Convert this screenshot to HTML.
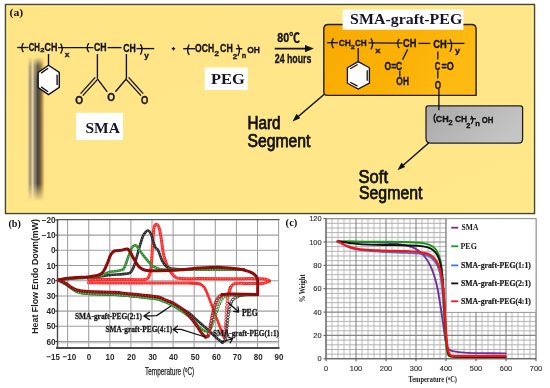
<!DOCTYPE html>
<html><head><meta charset="utf-8"><title>SMA-graft-PEG</title>
<style>html,body{margin:0;padding:0;background:#fff;}body{width:550px;height:388px;overflow:hidden;}svg{display:block}</style>
</head><body>
<svg width="550" height="388" viewBox="0 0 550 388">
<rect width="550" height="388" fill="#fff"/>
<defs>
<linearGradient id="ybg" x1="0" y1="0" x2="1" y2="1">
<stop offset="0" stop-color="#FFE484"/><stop offset="0.5" stop-color="#FFE689"/><stop offset="1" stop-color="#FFE88A"/>
</linearGradient>
<linearGradient id="stripe" gradientUnits="userSpaceOnUse" x1="26" y1="0" x2="45" y2="0">
<stop offset="0.000" stop-color="#FBE38C" stop-opacity="0"/>
<stop offset="0.100" stop-color="#F2D89A"/>
<stop offset="0.180" stop-color="#B0A276"/>
<stop offset="0.240" stop-color="#A69A72"/>
<stop offset="0.290" stop-color="#C8B486"/>
<stop offset="0.340" stop-color="#E6D0A2"/>
<stop offset="0.390" stop-color="#C6B68E"/>
<stop offset="0.450" stop-color="#8C887C"/>
<stop offset="0.530" stop-color="#76746A"/>
<stop offset="0.580" stop-color="#4C4A34"/>
<stop offset="0.660" stop-color="#584A38"/>
<stop offset="0.740" stop-color="#685A42"/>
<stop offset="0.790" stop-color="#82704E"/>
<stop offset="0.840" stop-color="#B48A3C"/>
<stop offset="0.895" stop-color="#D6A848"/>
<stop offset="0.950" stop-color="#F0CC88"/>
<stop offset="1.000" stop-color="#FBE38C" stop-opacity="0"/>
</linearGradient>
<linearGradient id="stripeFade" gradientUnits="userSpaceOnUse" x1="0" y1="57" x2="0" y2="201">
<stop offset="0" stop-color="#fff" stop-opacity="0"/>
<stop offset="0.06" stop-color="#fff" stop-opacity="0.8"/>
<stop offset="0.16" stop-color="#fff" stop-opacity="1"/>
<stop offset="0.88" stop-color="#fff" stop-opacity="1"/>
<stop offset="1" stop-color="#fff" stop-opacity="0"/>
</linearGradient>
<mask id="stripeMask" maskUnits="userSpaceOnUse" x="20" y="50" width="30" height="160"><rect x="20" y="57" width="30" height="144" fill="url(#stripeFade)"/></mask>
<linearGradient id="orng" x1="0" y1="0" x2="1" y2="0.3">
<stop offset="0" stop-color="#F8AB02"/><stop offset="0.6" stop-color="#FBB104"/><stop offset="1" stop-color="#FFBA12"/>
</linearGradient>
<linearGradient id="gry" x1="0" y1="0" x2="1" y2="0.4">
<stop offset="0" stop-color="#A9A9A9"/><stop offset="1" stop-color="#C4C4C4"/>
</linearGradient>
</defs>
<rect x="5.5" y="4.5" width="529" height="209" fill="url(#ybg)" stroke="#4A4638" stroke-width="1.5"/>
<rect x="7.1" y="6.1" width="525.8" height="205.8" fill="none" stroke="#FFF08C" stroke-width="1"/>
<text x="9.6" y="15.6" font-family="'Liberation Serif', serif" font-weight="bold" font-size="11" fill="#111" textLength="13.6" lengthAdjust="spacingAndGlyphs">(a)</text>
<rect x="26" y="57" width="19" height="144" fill="url(#stripe)" mask="url(#stripeMask)"/>
<g stroke="#111" stroke-width="1.35" fill="none">
<line x1="17.2" y1="47.5" x2="28.5" y2="47.5"/>
<line x1="58" y1="47.6" x2="93.5" y2="47.6"/>
<line x1="107.6" y1="47.6" x2="121.5" y2="47.6"/>
<line x1="136.5" y1="48.6" x2="154.2" y2="48.6"/>
<path d="M23.400000000000002,43.2 Q20.2,47.7 23.400000000000002,52.2"/>
<path d="M60.6,43.6 Q63.800000000000004,48.6 60.6,53.6"/>
<path d="M88.8,43.2 Q85.60000000000001,47.7 88.8,52.2"/>
<path d="M140.4,44.2 Q143.6,49.400000000000006 140.4,54.6"/>
<line x1="48.5" y1="54" x2="48.5" y2="65.2"/>
<polygon points="48.5,65.2 59.3,72.4 59.3,87.4 48.5,94.6 38.2,87.6 38.2,72.4" fill="#FFFFFF"/>
<line x1="48.1" y1="68.2" x2="41.1" y2="73.1"/>
<line x1="57.1" y1="74.8" x2="57.1" y2="85.0"/>
<line x1="41.1" y1="86.9" x2="48.1" y2="91.7"/>
<line x1="97.4" y1="54" x2="97.4" y2="78.8"/>
<line x1="126.4" y1="54" x2="126.4" y2="78.8"/>
<line x1="97.4" y1="78.8" x2="107.3" y2="91.8"/>
<line x1="126.4" y1="78.8" x2="115.4" y2="91.8"/>
<line x1="97.6" y1="79.4" x2="82.8" y2="95.6"/>
<line x1="95.2" y1="77.4" x2="80.6" y2="93.6"/>
<line x1="126.2" y1="79.4" x2="141.0" y2="95.6"/>
<line x1="128.6" y1="77.4" x2="143.2" y2="93.6"/>
</g>
<text x="28.75" y="51.0" font-family="'Liberation Sans', sans-serif" font-weight="bold" font-size="10" fill="#111" stroke="#111" stroke-width="0.3" textLength="11.20" lengthAdjust="spacingAndGlyphs">CH</text>
<text x="40.15" y="52.4" font-family="'Liberation Sans', sans-serif" font-weight="bold" font-size="6.2" fill="#111" stroke="#111" stroke-width="0.3" textLength="4.30" lengthAdjust="spacingAndGlyphs">2</text>
<text x="44.55" y="51.0" font-family="'Liberation Sans', sans-serif" font-weight="bold" font-size="10" fill="#111" stroke="#111" stroke-width="0.3" textLength="12.90" lengthAdjust="spacingAndGlyphs">CH</text>
<text x="64.75" y="56.5" font-family="'Liberation Sans', sans-serif" font-weight="bold" font-size="7.4" fill="#111" stroke="#111" stroke-width="0.3" textLength="4.70" lengthAdjust="spacingAndGlyphs">x</text>
<text x="94.05" y="50.6" font-family="'Liberation Sans', sans-serif" font-weight="bold" font-size="10" fill="#111" stroke="#111" stroke-width="0.3" textLength="12.60" lengthAdjust="spacingAndGlyphs">CH</text>
<text x="123.15" y="51.7" font-family="'Liberation Sans', sans-serif" font-weight="bold" font-size="10" fill="#111" stroke="#111" stroke-width="0.3" textLength="12.60" lengthAdjust="spacingAndGlyphs">CH</text>
<text x="144.25" y="57.6" font-family="'Liberation Sans', sans-serif" font-weight="bold" font-size="7.4" fill="#111" stroke="#111" stroke-width="0.3" textLength="4.60" lengthAdjust="spacingAndGlyphs">y</text>
<text x="75.15" y="104.3" font-family="'Liberation Sans', sans-serif" font-weight="bold" font-size="10.8" fill="#111" stroke="#111" stroke-width="0.3" textLength="7.80" lengthAdjust="spacingAndGlyphs">O</text>
<text x="107.15" y="101.4" font-family="'Liberation Sans', sans-serif" font-weight="bold" font-size="10.8" fill="#111" stroke="#111" stroke-width="0.3" textLength="7.80" lengthAdjust="spacingAndGlyphs">O</text>
<text x="141.05" y="104.3" font-family="'Liberation Sans', sans-serif" font-weight="bold" font-size="10.8" fill="#111" stroke="#111" stroke-width="0.3" textLength="7.30" lengthAdjust="spacingAndGlyphs">O</text>
<rect x="76" y="112.8" width="47" height="27.2" fill="#FFFFFF"/>
<text x="85.5" y="132.7" font-family="'Liberation Serif', serif" font-weight="bold" font-size="15.6" fill="#14142A" textLength="34.4" lengthAdjust="spacingAndGlyphs">SMA</text>
<g stroke="#111" stroke-width="1.3"><line x1="171.8" y1="48.7" x2="175.1" y2="48.7"/><line x1="173.45" y1="47" x2="173.45" y2="50.4"/></g>
<g stroke="#111" stroke-width="1.35" fill="none">
<line x1="183.2" y1="48.7" x2="195" y2="48.7"/>
<path d="M189.2,44.6 Q186.0,49.8 189.2,55"/>
<line x1="235.9" y1="48.7" x2="242.3" y2="48.7"/>
<path d="M237.8,44.6 Q241.0,50.3 237.8,56"/>
</g>
<text x="195.05" y="52.4" font-family="'Liberation Sans', sans-serif" font-weight="bold" font-size="10.4" fill="#111" stroke="#111" stroke-width="0.3" textLength="19.10" lengthAdjust="spacingAndGlyphs">OCH</text>
<text x="214.55" y="55.6" font-family="'Liberation Sans', sans-serif" font-weight="bold" font-size="7" fill="#111" stroke="#111" stroke-width="0.3" textLength="4.50" lengthAdjust="spacingAndGlyphs">2</text>
<text x="220.05" y="52.4" font-family="'Liberation Sans', sans-serif" font-weight="bold" font-size="10.4" fill="#111" stroke="#111" stroke-width="0.3" textLength="12.70" lengthAdjust="spacingAndGlyphs">CH</text>
<text x="232.75" y="58.7" font-family="'Liberation Sans', sans-serif" font-weight="bold" font-size="7.6" fill="#111" stroke="#111" stroke-width="0.3" textLength="4.50" lengthAdjust="spacingAndGlyphs">2</text>
<text x="241.85" y="57.8" font-family="'Liberation Sans', sans-serif" font-weight="bold" font-size="7.8" fill="#111" stroke="#111" stroke-width="0.3" textLength="4.50" lengthAdjust="spacingAndGlyphs">n</text>
<text x="247.25" y="52.7" font-family="'Liberation Sans', sans-serif" font-weight="bold" font-size="9.6" fill="#111" stroke="#111" stroke-width="0.3" textLength="12.70" lengthAdjust="spacingAndGlyphs">OH</text>
<rect x="204.7" y="67.5" width="43" height="22.5" fill="#FFFFFF"/>
<text x="210.9" y="83.6" font-family="'Liberation Serif', serif" font-weight="bold" font-size="15.6" fill="#14142A" textLength="33.8" lengthAdjust="spacingAndGlyphs">PEG</text>
<text x="277.35" y="42.4" font-family="'Liberation Sans', 'Noto Sans CJK SC', sans-serif" font-weight="bold" font-size="12.8" fill="#111" stroke="#111" stroke-width="0.3" textLength="22.60" lengthAdjust="spacingAndGlyphs">80℃</text>
<line x1="274.7" y1="48.6" x2="307" y2="48.6" stroke="#111" stroke-width="1.7"/>
<path d="M305,45.0 L313.8,48.6 L305,52.2 z" fill="#111"/>
<text x="274.75" y="63.3" font-family="'Liberation Sans', sans-serif" font-weight="bold" font-size="12.8" fill="#111" stroke="#111" stroke-width="0.3" textLength="36.70" lengthAdjust="spacingAndGlyphs">24 hours</text>
<path d="M323.8,91.5 L323.8,29 Q323.8,24.5 328.3,24.5 L471.6,24.5 Q476.1,24.5 476.1,29 L476.1,95.4 L327.7,95.4 Q323.8,95.4 323.8,91.5 Z" fill="url(#orng)" stroke="#241C14" stroke-width="1.4"/>
<rect x="342.6" y="9.4" width="120.8" height="20.3" fill="#FFFFFF"/>
<text x="350.1" y="24" font-family="'Liberation Serif', serif" font-weight="bold" font-size="15.6" fill="#14142A" textLength="112.2" lengthAdjust="spacingAndGlyphs">SMA-graft-PEG</text>
<g stroke="#111" stroke-width="1.3" fill="none">
<line x1="327.1" y1="42.7" x2="338" y2="42.7"/>
<line x1="368.5" y1="42.9" x2="402.5" y2="43.1"/>
<line x1="418.5" y1="43.4" x2="430.3" y2="43.4"/>
<line x1="447" y1="43.4" x2="464.6" y2="43.4"/>
<path d="M333.40000000000003,38.4 Q330.2,43.3 333.40000000000003,48.2"/>
<path d="M371.0,38.4 Q374.20000000000005,43.849999999999994 371.0,49.3"/>
<path d="M399.20000000000005,39.0 Q396.0,43.5 399.20000000000005,48.0"/>
<path d="M450.0,39.2 Q453.20000000000005,45.5 450.0,51.8"/>
<line x1="358.2" y1="48" x2="358.2" y2="61.6"/>
<polygon points="358.2,61.6 369.4,67.8 369.4,83.2 358.2,89.0 347.4,83.2 347.4,67.8" fill="#FFFFFF"/>
<line x1="357.6" y1="64.5" x2="350.2" y2="68.7"/>
<line x1="367.2" y1="70.3" x2="367.2" y2="80.7"/>
<line x1="350.2" y1="82.2" x2="357.5" y2="86.1"/>
<line x1="407.7" y1="49.3" x2="402.6" y2="59.6"/>
<line x1="399.8" y1="70.8" x2="399.8" y2="76.4"/>
<line x1="437.8" y1="51.6" x2="437.8" y2="59.6"/>
<line x1="437.8" y1="70.4" x2="437.8" y2="78.6"/>
<line x1="438.9" y1="88.8" x2="438.9" y2="110.5"/>
</g>
<text x="338.65" y="45.8" font-family="'Liberation Sans', sans-serif" font-weight="bold" font-size="9.6" fill="#111" stroke="#111" stroke-width="0.3" textLength="12.30" lengthAdjust="spacingAndGlyphs">CH</text>
<text x="350.85" y="48.7" font-family="'Liberation Sans', sans-serif" font-weight="bold" font-size="6.0" fill="#111" stroke="#111" stroke-width="0.3" textLength="4.00" lengthAdjust="spacingAndGlyphs">2</text>
<text x="354.95" y="45.8" font-family="'Liberation Sans', sans-serif" font-weight="bold" font-size="9.6" fill="#111" stroke="#111" stroke-width="0.3" textLength="11.80" lengthAdjust="spacingAndGlyphs">CH</text>
<text x="375.15" y="52.5" font-family="'Liberation Sans', sans-serif" font-weight="bold" font-size="7.6" fill="#111" stroke="#111" stroke-width="0.3" textLength="5.30" lengthAdjust="spacingAndGlyphs">x</text>
<text x="403.05" y="46.8" font-family="'Liberation Sans', sans-serif" font-weight="bold" font-size="10" fill="#111" stroke="#111" stroke-width="0.3" textLength="13.40" lengthAdjust="spacingAndGlyphs">CH</text>
<text x="433.15" y="47.6" font-family="'Liberation Sans', sans-serif" font-weight="bold" font-size="10" fill="#111" stroke="#111" stroke-width="0.3" textLength="13.50" lengthAdjust="spacingAndGlyphs">CH</text>
<text x="454.95" y="53.2" font-family="'Liberation Sans', sans-serif" font-weight="bold" font-size="7.4" fill="#111" stroke="#111" stroke-width="0.3" textLength="5.10" lengthAdjust="spacingAndGlyphs">y</text>
<text x="384.55" y="70.0" font-family="'Liberation Sans', sans-serif" font-weight="bold" font-size="10.4" fill="#111" stroke="#111" stroke-width="0.3" textLength="17.70" lengthAdjust="spacingAndGlyphs">O=C</text>
<text x="396.35" y="85.2" font-family="'Liberation Sans', sans-serif" font-weight="bold" font-size="10.4" fill="#111" stroke="#111" stroke-width="0.3" textLength="12.60" lengthAdjust="spacingAndGlyphs">OH</text>
<text x="434.85" y="70.0" font-family="'Liberation Sans', sans-serif" font-weight="bold" font-size="10.4" fill="#111" stroke="#111" stroke-width="0.3" textLength="5.60" lengthAdjust="spacingAndGlyphs">C</text>
<text x="441.55" y="70.0" font-family="'Liberation Sans', sans-serif" font-weight="bold" font-size="10.4" fill="#111" stroke="#111" stroke-width="0.3" textLength="12.30" lengthAdjust="spacingAndGlyphs">=O</text>
<text x="434.85" y="88.5" font-family="'Liberation Sans', sans-serif" font-weight="bold" font-size="10.8" fill="#111" stroke="#111" stroke-width="0.3" textLength="6.30" lengthAdjust="spacingAndGlyphs">O</text>
<path d="M426,108 Q426,105.8 428.2,105.8 L520.4,105.8 Q522.6,105.8 522.6,108 L522.6,139 Q522.6,143.2 518.4,143.2 L431,143.2 Q426,143.2 426,138.2 Z" fill="url(#gry)" stroke="#222" stroke-width="1.3"/>
<line x1="438.9" y1="105" x2="438.9" y2="110.2" stroke="#111" stroke-width="1.3"/>
<g stroke="#111" stroke-width="1.3" fill="none"><path d="M435.6,113.7 Q432.4,118.25 435.6,122.8"/><line x1="470" y1="118.8" x2="476" y2="118.8"/><path d="M471.2,116.0 Q474.40000000000003,120.1 471.2,124.2"/></g>
<text x="435.85" y="122.0" font-family="'Liberation Sans', sans-serif" font-weight="bold" font-size="9.8" fill="#111" stroke="#111" stroke-width="0.3" textLength="13.00" lengthAdjust="spacingAndGlyphs">CH</text>
<text x="448.55" y="125.2" font-family="'Liberation Sans', sans-serif" font-weight="bold" font-size="6.4" fill="#111" stroke="#111" stroke-width="0.3" textLength="4.10" lengthAdjust="spacingAndGlyphs">2</text>
<text x="454.95" y="122.3" font-family="'Liberation Sans', sans-serif" font-weight="bold" font-size="9.8" fill="#111" stroke="#111" stroke-width="0.3" textLength="12.30" lengthAdjust="spacingAndGlyphs">CH</text>
<text x="466.35" y="128.4" font-family="'Liberation Sans', sans-serif" font-weight="bold" font-size="6.4" fill="#111" stroke="#111" stroke-width="0.3" textLength="4.10" lengthAdjust="spacingAndGlyphs">2</text>
<text x="475.25" y="125.8" font-family="'Liberation Sans', sans-serif" font-weight="bold" font-size="7.0" fill="#111" stroke="#111" stroke-width="0.3" textLength="4.70" lengthAdjust="spacingAndGlyphs">n</text>
<text x="481.65" y="123.0" font-family="'Liberation Sans', sans-serif" font-weight="bold" font-size="9.6" fill="#111" stroke="#111" stroke-width="0.3" textLength="11.70" lengthAdjust="spacingAndGlyphs">OH</text>
<line x1="324" y1="94.5" x2="295" y2="119.3" stroke="#111" stroke-width="1.5"/>
<path d="M292.5,121.5 L296.5,113.8 L300.2,118.2 z" fill="#111"/>
<text x="247.50" y="128.5" font-family="'Liberation Sans', sans-serif" font-weight="normal" font-size="17.6" fill="#111" stroke="#111" stroke-width="0.75" textLength="33.10" lengthAdjust="spacingAndGlyphs">Hard</text>
<text x="247.50" y="146.9" font-family="'Liberation Sans', sans-serif" font-weight="normal" font-size="17.6" fill="#111" stroke="#111" stroke-width="0.75" textLength="63.00" lengthAdjust="spacingAndGlyphs">Segment</text>
<line x1="428.6" y1="143" x2="400" y2="168" stroke="#111" stroke-width="1.5"/>
<path d="M397.5,170.3 L401.5,162.5 L405.2,167 z" fill="#111"/>
<text x="358.60" y="183.1" font-family="'Liberation Sans', sans-serif" font-weight="normal" font-size="17.6" fill="#111" stroke="#111" stroke-width="0.75" textLength="29.40" lengthAdjust="spacingAndGlyphs">Soft</text>
<text x="359.00" y="199.0" font-family="'Liberation Sans', sans-serif" font-weight="normal" font-size="17.6" fill="#111" stroke="#111" stroke-width="0.75" textLength="63.40" lengthAdjust="spacingAndGlyphs">Segment</text>
<text x="8.4" y="226.8" font-family="'Liberation Serif', serif" font-weight="bold" font-size="11" fill="#111" textLength="12.4" lengthAdjust="spacingAndGlyphs">(b)</text>
<g stroke="#9E9E9E" stroke-width="1.05" fill="none">
<line x1="67.6" y1="219.5" x2="67.6" y2="347"/>
<line x1="88.7" y1="219.5" x2="88.7" y2="347"/>
<line x1="109.8" y1="219.5" x2="109.8" y2="347"/>
<line x1="130.9" y1="219.5" x2="130.9" y2="347"/>
<line x1="152.0" y1="219.5" x2="152.0" y2="347"/>
<line x1="173.1" y1="219.5" x2="173.1" y2="347"/>
<line x1="194.2" y1="219.5" x2="194.2" y2="347"/>
<line x1="215.3" y1="219.5" x2="215.3" y2="347"/>
<line x1="236.4" y1="219.5" x2="236.4" y2="347"/>
<line x1="257.5" y1="219.5" x2="257.5" y2="347"/>
<line x1="278.6" y1="219.5" x2="278.6" y2="347"/>
<line x1="57" y1="235.1" x2="279" y2="235.1"/>
<line x1="57" y1="250.3" x2="279" y2="250.3"/>
<line x1="57" y1="265.5" x2="279" y2="265.5"/>
<line x1="57" y1="280.7" x2="279" y2="280.7"/>
<line x1="57" y1="295.9" x2="279" y2="295.9"/>
<line x1="57" y1="311.1" x2="279" y2="311.1"/>
<line x1="57" y1="326.3" x2="279" y2="326.3"/>
<line x1="57" y1="341.5" x2="279" y2="341.5"/>
<line x1="57" y1="342.8" x2="279" y2="342.8" stroke="#B0B0B0" stroke-width="0.9"/>
</g>
<line x1="57" y1="219.6" x2="279.5" y2="219.6" stroke="#555" stroke-width="1.4"/>
<line x1="57.5" y1="219" x2="57.5" y2="349" stroke="#4A4A4A" stroke-width="1.4"/>
<line x1="56" y1="348" x2="279.5" y2="348" stroke="#4A4A4A" stroke-width="1.9"/>
<line x1="55.3" y1="219.9" x2="57.5" y2="219.9" stroke="#333" stroke-width="1.1"/>
<text transform="translate(55.6,222.9) scale(0.98,1)" font-family="'Liberation Sans', sans-serif" font-weight="bold" font-size="8.4" fill="#2A2A2A" text-anchor="end">−20</text>
<line x1="55.3" y1="235.1" x2="57.5" y2="235.1" stroke="#333" stroke-width="1.1"/>
<text transform="translate(55.6,238.1) scale(0.98,1)" font-family="'Liberation Sans', sans-serif" font-weight="bold" font-size="8.4" fill="#2A2A2A" text-anchor="end">−10</text>
<line x1="55.3" y1="250.3" x2="57.5" y2="250.3" stroke="#333" stroke-width="1.1"/>
<text transform="translate(55.6,253.3) scale(0.98,1)" font-family="'Liberation Sans', sans-serif" font-weight="bold" font-size="8.4" fill="#2A2A2A" text-anchor="end">0</text>
<line x1="55.3" y1="265.5" x2="57.5" y2="265.5" stroke="#333" stroke-width="1.1"/>
<text transform="translate(55.6,268.5) scale(0.98,1)" font-family="'Liberation Sans', sans-serif" font-weight="bold" font-size="8.4" fill="#2A2A2A" text-anchor="end">10</text>
<line x1="55.3" y1="280.7" x2="57.5" y2="280.7" stroke="#333" stroke-width="1.1"/>
<text transform="translate(55.6,283.7) scale(0.98,1)" font-family="'Liberation Sans', sans-serif" font-weight="bold" font-size="8.4" fill="#2A2A2A" text-anchor="end">20</text>
<line x1="55.3" y1="295.9" x2="57.5" y2="295.9" stroke="#333" stroke-width="1.1"/>
<text transform="translate(55.6,298.9) scale(0.98,1)" font-family="'Liberation Sans', sans-serif" font-weight="bold" font-size="8.4" fill="#2A2A2A" text-anchor="end">30</text>
<line x1="55.3" y1="311.1" x2="57.5" y2="311.1" stroke="#333" stroke-width="1.1"/>
<text transform="translate(55.6,314.1) scale(0.98,1)" font-family="'Liberation Sans', sans-serif" font-weight="bold" font-size="8.4" fill="#2A2A2A" text-anchor="end">40</text>
<line x1="55.3" y1="326.3" x2="57.5" y2="326.3" stroke="#333" stroke-width="1.1"/>
<text transform="translate(55.6,329.3) scale(0.98,1)" font-family="'Liberation Sans', sans-serif" font-weight="bold" font-size="8.4" fill="#2A2A2A" text-anchor="end">50</text>
<line x1="55.3" y1="341.5" x2="57.5" y2="341.5" stroke="#333" stroke-width="1.1"/>
<text transform="translate(55.6,344.5) scale(0.98,1)" font-family="'Liberation Sans', sans-serif" font-weight="bold" font-size="8.4" fill="#2A2A2A" text-anchor="end">60</text>
<text transform="translate(53.1,359.8) scale(0.88,1)" font-family="'Liberation Sans', sans-serif" font-weight="bold" font-size="9.1" fill="#2A2A2A" text-anchor="middle">−15</text>
<text transform="translate(69.3,359.8) scale(0.88,1)" font-family="'Liberation Sans', sans-serif" font-weight="bold" font-size="9.1" fill="#2A2A2A" text-anchor="middle">−10</text>
<text transform="translate(89.0,359.8) scale(0.88,1)" font-family="'Liberation Sans', sans-serif" font-weight="bold" font-size="9.1" fill="#2A2A2A" text-anchor="middle">0</text>
<text transform="translate(110.0,359.8) scale(0.88,1)" font-family="'Liberation Sans', sans-serif" font-weight="bold" font-size="9.1" fill="#2A2A2A" text-anchor="middle">10</text>
<text transform="translate(131.5,359.8) scale(0.88,1)" font-family="'Liberation Sans', sans-serif" font-weight="bold" font-size="9.1" fill="#2A2A2A" text-anchor="middle">20</text>
<text transform="translate(152.6,359.8) scale(0.88,1)" font-family="'Liberation Sans', sans-serif" font-weight="bold" font-size="9.1" fill="#2A2A2A" text-anchor="middle">30</text>
<text transform="translate(173.5,359.8) scale(0.88,1)" font-family="'Liberation Sans', sans-serif" font-weight="bold" font-size="9.1" fill="#2A2A2A" text-anchor="middle">40</text>
<text transform="translate(195.2,359.8) scale(0.88,1)" font-family="'Liberation Sans', sans-serif" font-weight="bold" font-size="9.1" fill="#2A2A2A" text-anchor="middle">50</text>
<text transform="translate(216.4,359.8) scale(0.88,1)" font-family="'Liberation Sans', sans-serif" font-weight="bold" font-size="9.1" fill="#2A2A2A" text-anchor="middle">60</text>
<text transform="translate(237.2,359.8) scale(0.88,1)" font-family="'Liberation Sans', sans-serif" font-weight="bold" font-size="9.1" fill="#2A2A2A" text-anchor="middle">70</text>
<text transform="translate(258.3,359.8) scale(0.88,1)" font-family="'Liberation Sans', sans-serif" font-weight="bold" font-size="9.1" fill="#2A2A2A" text-anchor="middle">80</text>
<text transform="translate(279.0,359.8) scale(0.88,1)" font-family="'Liberation Sans', sans-serif" font-weight="bold" font-size="9.1" fill="#2A2A2A" text-anchor="middle">90</text>
<text x="145" y="374.9" font-family="'Liberation Sans', sans-serif" font-size="10" fill="#222" stroke="#222" stroke-width="0.25" textLength="49.2" lengthAdjust="spacingAndGlyphs">Temperature (<tspan font-size="6.5" dy="-3.4">o</tspan><tspan dy="3.4">C)</tspan></text>
<text transform="translate(38.4,333.8) rotate(-90)" font-family="'Liberation Sans', sans-serif" font-weight="bold" font-size="8.2" fill="#222" textLength="114.8" lengthAdjust="spacingAndGlyphs">Heat Flow Endo Down(mW)</text>
<path d="M269.50,281.00 C268.25,280.63 268.58,279.18 262.00,278.80 C255.42,278.42 240.33,278.73 230.00,278.70 C219.67,278.67 208.33,278.63 200.00,278.60 C191.67,278.57 184.25,278.85 180.00,278.50 C175.75,278.15 176.08,277.62 174.50,276.50 C172.92,275.38 171.67,273.48 170.50,271.80 C169.33,270.12 168.42,268.45 167.50,266.40 C166.58,264.35 165.72,261.82 165.00,259.50 C164.28,257.18 163.90,256.42 163.20,252.50 C162.50,248.58 161.50,240.17 160.80,236.00 C160.10,231.83 159.72,229.47 159.00,227.50 C158.28,225.53 157.28,224.32 156.50,224.20 C155.72,224.08 154.85,224.95 154.30,226.80 C153.75,228.65 153.53,231.43 153.20,235.30 C152.87,239.17 152.67,244.55 152.30,250.00 C151.93,255.45 151.58,263.53 151.00,268.00 C150.42,272.47 149.80,274.90 148.80,276.80 C147.80,278.70 148.13,278.93 145.00,279.40 C141.87,279.87 137.50,279.57 130.00,279.60 C122.50,279.63 106.92,279.60 100.00,279.60 C93.08,279.60 90.42,279.60 88.50,279.60" fill="none" stroke="#FF2A2A" stroke-width="3.0" stroke-linejoin="round" stroke-linecap="round" opacity="1.0"/>
<path d="M269.50,281.00 C268.25,280.63 268.58,279.18 262.00,278.80 C255.42,278.42 240.33,278.73 230.00,278.70 C219.67,278.67 208.33,278.63 200.00,278.60 C191.67,278.57 184.25,278.85 180.00,278.50 C175.75,278.15 176.08,277.62 174.50,276.50 C172.92,275.38 171.67,273.48 170.50,271.80 C169.33,270.12 168.42,268.45 167.50,266.40 C166.58,264.35 165.72,261.82 165.00,259.50 C164.28,257.18 163.90,256.42 163.20,252.50 C162.50,248.58 161.50,240.17 160.80,236.00 C160.10,231.83 159.72,229.47 159.00,227.50 C158.28,225.53 157.28,224.32 156.50,224.20 C155.72,224.08 154.85,224.95 154.30,226.80 C153.75,228.65 153.53,231.43 153.20,235.30 C152.87,239.17 152.67,244.55 152.30,250.00 C151.93,255.45 151.58,263.53 151.00,268.00 C150.42,272.47 149.80,274.90 148.80,276.80 C147.80,278.70 148.13,278.93 145.00,279.40 C141.87,279.87 137.50,279.57 130.00,279.60 C122.50,279.63 106.92,279.60 100.00,279.60 C93.08,279.60 90.42,279.60 88.50,279.60" fill="none" stroke="#FFB8B8" stroke-width="0.9" stroke-linecap="round" stroke-dasharray="0.01 2.6"/>
<path d="M88.50,282.80 C93.75,282.82 108.08,282.88 120.00,282.90 C131.92,282.92 148.33,282.88 160.00,282.90 C171.67,282.92 183.33,282.82 190.00,283.00 C196.67,283.18 198.33,283.83 200.00,284.00" fill="none" stroke="#FF2A2A" stroke-width="3.0" stroke-linejoin="round" stroke-linecap="round" opacity="1.0"/>
<path d="M88.50,282.80 C93.75,282.82 108.08,282.88 120.00,282.90 C131.92,282.92 148.33,282.88 160.00,282.90 C171.67,282.92 183.33,282.82 190.00,283.00 C196.67,283.18 198.33,283.83 200.00,284.00" fill="none" stroke="#FFB8B8" stroke-width="0.9" stroke-linecap="round" stroke-dasharray="0.01 2.6"/>
<path d="M190.00,283.00 C191.67,283.17 197.55,283.17 200.00,284.00 C202.45,284.83 203.03,285.25 204.70,288.00 C206.37,290.75 208.13,295.77 210.00,300.50 C211.87,305.23 214.07,311.57 215.90,316.40 C217.73,321.23 219.60,325.98 221.00,329.50 C222.40,333.02 223.75,336.17 224.30,337.50" fill="none" stroke="#FF2A2A" stroke-width="2.6" stroke-linejoin="round" stroke-linecap="round" opacity="1.0"/>
<g fill="none" stroke="#FF2A2A" stroke-width="1.0"><circle cx="224.3" cy="337.5" r="1.3"/><circle cx="224.6" cy="334.6" r="1.3"/><circle cx="225.0" cy="331.4" r="1.3"/><circle cx="225.4" cy="327.8" r="1.3"/><circle cx="225.6" cy="325.3" r="1.3"/><circle cx="225.8" cy="322.5" r="1.3"/><circle cx="226.0" cy="319.4" r="1.3"/><circle cx="226.2" cy="316.1" r="1.3"/><circle cx="226.4" cy="312.8" r="1.3"/><circle cx="226.6" cy="309.7" r="1.3"/><circle cx="226.8" cy="307.0" r="1.3"/><circle cx="227.1" cy="303.6" r="1.3"/><circle cx="227.4" cy="300.6" r="1.3"/><circle cx="227.8" cy="298.0" r="1.3"/><circle cx="228.2" cy="295.5" r="1.3"/><circle cx="228.8" cy="293.1" r="1.3"/><circle cx="229.7" cy="290.1" r="1.3"/><circle cx="230.5" cy="287.5" r="1.3"/></g>
<path d="M228.20,295.50 C228.58,294.17 229.45,289.48 230.50,287.50 C231.55,285.52 232.08,284.28 234.50,283.60 C236.92,282.92 240.42,283.43 245.00,283.40 C249.58,283.37 257.92,283.80 262.00,283.40 C266.08,283.00 268.25,281.40 269.50,281.00" fill="none" stroke="#FF2A2A" stroke-width="3.0" stroke-linejoin="round" stroke-linecap="round" opacity="1.0"/>
<path d="M228.20,295.50 C228.58,294.17 229.45,289.48 230.50,287.50 C231.55,285.52 232.08,284.28 234.50,283.60 C236.92,282.92 240.42,283.43 245.00,283.40 C249.58,283.37 257.92,283.80 262.00,283.40 C266.08,283.00 268.25,281.40 269.50,281.00" fill="none" stroke="#FFB8B8" stroke-width="0.9" stroke-linecap="round" stroke-dasharray="0.01 2.6"/>
<path d="M244.00,269.60 C241.67,269.60 239.00,269.63 230.00,269.60 C221.00,269.57 199.17,269.52 190.00,269.40 C180.83,269.28 178.33,269.10 175.00,268.90 C171.67,268.70 171.53,268.68 170.00,268.20 C168.47,267.72 167.07,267.17 165.80,266.00 C164.53,264.83 163.43,263.20 162.40,261.20 C161.37,259.20 160.40,255.97 159.60,254.00 C158.80,252.03 158.27,250.43 157.60,249.40 C156.93,248.37 156.27,248.93 155.60,247.80 C154.93,246.67 154.37,244.90 153.60,242.60 C152.83,240.30 151.93,236.00 151.00,234.00 C150.07,232.00 148.95,230.85 148.00,230.60 C147.05,230.35 146.13,231.60 145.30,232.50 C144.47,233.40 143.90,233.82 143.00,236.00 C142.10,238.18 140.98,241.98 139.90,245.60 C138.82,249.22 137.57,254.05 136.50,257.70 C135.43,261.35 134.58,264.98 133.50,267.50 C132.42,270.02 131.82,271.70 130.00,272.80 C128.18,273.90 125.85,273.73 122.60,274.10 C119.35,274.47 115.10,274.52 110.50,275.00 C105.90,275.48 100.08,276.52 95.00,277.00 C89.92,277.48 85.00,277.57 80.00,277.90 C75.00,278.23 68.62,278.65 65.00,279.00 C61.38,279.35 59.42,279.83 58.30,280.00" fill="none" stroke="#2A2A2A" stroke-width="2.6" stroke-linejoin="round" stroke-linecap="round" opacity="1.0"/>
<path d="M244.00,269.60 C241.67,269.60 239.00,269.63 230.00,269.60 C221.00,269.57 199.17,269.52 190.00,269.40 C180.83,269.28 178.33,269.10 175.00,268.90 C171.67,268.70 171.53,268.68 170.00,268.20 C168.47,267.72 167.07,267.17 165.80,266.00 C164.53,264.83 163.43,263.20 162.40,261.20 C161.37,259.20 160.40,255.97 159.60,254.00 C158.80,252.03 158.27,250.43 157.60,249.40 C156.93,248.37 156.27,248.93 155.60,247.80 C154.93,246.67 154.37,244.90 153.60,242.60 C152.83,240.30 151.93,236.00 151.00,234.00 C150.07,232.00 148.95,230.85 148.00,230.60 C147.05,230.35 146.13,231.60 145.30,232.50 C144.47,233.40 143.90,233.82 143.00,236.00 C142.10,238.18 140.98,241.98 139.90,245.60 C138.82,249.22 137.57,254.05 136.50,257.70 C135.43,261.35 134.58,264.98 133.50,267.50 C132.42,270.02 131.82,271.70 130.00,272.80 C128.18,273.90 125.85,273.73 122.60,274.10 C119.35,274.47 115.10,274.52 110.50,275.00 C105.90,275.48 100.08,276.52 95.00,277.00 C89.92,277.48 85.00,277.57 80.00,277.90 C75.00,278.23 68.62,278.65 65.00,279.00 C61.38,279.35 59.42,279.83 58.30,280.00" fill="none" stroke="#9A9A9A" stroke-width="0.9" stroke-linecap="round" stroke-dasharray="0.01 2.6"/>
<path d="M58.30,280.00 C59.58,280.75 62.92,282.58 66.00,284.50 C69.08,286.42 73.18,289.95 76.80,291.50 C80.42,293.05 81.33,293.28 87.70,293.80 C94.07,294.32 104.78,293.97 115.00,294.60 C125.22,295.23 141.50,296.93 149.00,297.60 C156.50,298.27 155.75,297.43 160.00,298.60 C164.25,299.77 169.65,302.20 174.50,304.60 C179.35,307.00 185.45,310.48 189.10,313.00 C192.75,315.52 193.50,317.12 196.40,319.70 C199.30,322.28 203.27,325.58 206.50,328.50 C209.73,331.42 213.15,334.88 215.80,337.20 C218.45,339.52 221.30,341.53 222.40,342.40" fill="none" stroke="#2A2A2A" stroke-width="2.6" stroke-linejoin="round" stroke-linecap="round" opacity="1.0"/>
<path d="M58.30,280.00 C59.58,280.75 62.92,282.58 66.00,284.50 C69.08,286.42 73.18,289.95 76.80,291.50 C80.42,293.05 81.33,293.28 87.70,293.80 C94.07,294.32 104.78,293.97 115.00,294.60 C125.22,295.23 141.50,296.93 149.00,297.60 C156.50,298.27 155.75,297.43 160.00,298.60 C164.25,299.77 169.65,302.20 174.50,304.60 C179.35,307.00 185.45,310.48 189.10,313.00 C192.75,315.52 193.50,317.12 196.40,319.70 C199.30,322.28 203.27,325.58 206.50,328.50 C209.73,331.42 213.15,334.88 215.80,337.20 C218.45,339.52 221.30,341.53 222.40,342.40" fill="none" stroke="#A8A8A8" stroke-width="0.9" stroke-linecap="round" stroke-dasharray="0.01 2.6"/>
<g fill="none" stroke="#3A3A3A" stroke-width="1.0"><circle cx="222.4" cy="342.4" r="1.3"/><circle cx="224.5" cy="341.0" r="1.3"/><circle cx="225.4" cy="338.8" r="1.3"/><circle cx="225.9" cy="335.9" r="1.3"/><circle cx="226.1" cy="333.6" r="1.3"/><circle cx="226.4" cy="331.1" r="1.3"/><circle cx="226.7" cy="328.5" r="1.3"/><circle cx="227.0" cy="326.0" r="1.3"/><circle cx="227.3" cy="323.3" r="1.3"/><circle cx="227.6" cy="320.5" r="1.3"/><circle cx="227.9" cy="317.5" r="1.3"/><circle cx="228.3" cy="314.6" r="1.3"/><circle cx="228.7" cy="311.9" r="1.3"/><circle cx="229.1" cy="309.5" r="1.3"/><circle cx="229.8" cy="306.5" r="1.3"/><circle cx="230.6" cy="304.0" r="1.3"/><circle cx="231.4" cy="301.8" r="1.3"/><circle cx="232.9" cy="299.5" r="1.3"/><circle cx="235.1" cy="297.7" r="1.3"/><circle cx="237.4" cy="296.6" r="1.3"/></g>
<path d="M238.50,296.00 C240.08,295.80 244.82,295.03 248.00,294.80 C251.18,294.57 256.00,294.63 257.60,294.60" fill="none" stroke="#2A2A2A" stroke-width="2.6" stroke-linejoin="round" stroke-linecap="round" opacity="1.0"/>
<path d="M238.50,296.00 C240.08,295.80 244.82,295.03 248.00,294.80 C251.18,294.57 256.00,294.63 257.60,294.60" fill="none" stroke="#A8A8A8" stroke-width="0.9" stroke-linecap="round" stroke-dasharray="0.01 2.6"/>
<path d="M244.00,269.80 C236.67,269.80 212.33,269.83 200.00,269.80 C187.67,269.77 176.58,269.70 170.00,269.60 C163.42,269.50 162.92,269.57 160.50,269.20 C158.08,268.83 156.92,268.02 155.50,267.40 C154.08,266.78 153.73,267.12 152.00,265.50 C150.27,263.88 147.12,260.15 145.10,257.70 C143.08,255.25 141.27,252.68 139.90,250.80 C138.53,248.92 137.75,247.30 136.90,246.40 C136.05,245.50 135.55,245.30 134.80,245.40 C134.05,245.50 133.13,246.07 132.40,247.00 C131.67,247.93 131.03,249.50 130.40,251.00 C129.77,252.50 129.40,253.73 128.60,256.00 C127.80,258.27 126.50,262.40 125.60,264.60 C124.70,266.80 124.47,268.17 123.20,269.20 C121.93,270.23 119.87,270.40 118.00,270.80 C116.13,271.20 113.83,271.23 112.00,271.60 C110.17,271.97 108.97,272.30 107.00,273.00 C105.03,273.70 103.03,275.07 100.20,275.80 C97.37,276.53 95.03,276.93 90.00,277.40 C84.97,277.87 75.28,278.17 70.00,278.60 C64.72,279.03 60.25,279.77 58.30,280.00" fill="none" stroke="#2F8A2F" stroke-width="2.6" stroke-linejoin="round" stroke-linecap="round" opacity="1.0"/>
<path d="M244.00,269.80 C236.67,269.80 212.33,269.83 200.00,269.80 C187.67,269.77 176.58,269.70 170.00,269.60 C163.42,269.50 162.92,269.57 160.50,269.20 C158.08,268.83 156.92,268.02 155.50,267.40 C154.08,266.78 153.73,267.12 152.00,265.50 C150.27,263.88 147.12,260.15 145.10,257.70 C143.08,255.25 141.27,252.68 139.90,250.80 C138.53,248.92 137.75,247.30 136.90,246.40 C136.05,245.50 135.55,245.30 134.80,245.40 C134.05,245.50 133.13,246.07 132.40,247.00 C131.67,247.93 131.03,249.50 130.40,251.00 C129.77,252.50 129.40,253.73 128.60,256.00 C127.80,258.27 126.50,262.40 125.60,264.60 C124.70,266.80 124.47,268.17 123.20,269.20 C121.93,270.23 119.87,270.40 118.00,270.80 C116.13,271.20 113.83,271.23 112.00,271.60 C110.17,271.97 108.97,272.30 107.00,273.00 C105.03,273.70 103.03,275.07 100.20,275.80 C97.37,276.53 95.03,276.93 90.00,277.40 C84.97,277.87 75.28,278.17 70.00,278.60 C64.72,279.03 60.25,279.77 58.30,280.00" fill="none" stroke="#A8D8A8" stroke-width="0.9" stroke-linecap="round" stroke-dasharray="0.01 2.6"/>
<path d="M58.30,280.00 C59.58,280.70 62.92,282.23 66.00,284.20 C69.08,286.17 73.18,290.23 76.80,291.80 C80.42,293.37 81.33,293.10 87.70,293.60 C94.07,294.10 104.78,294.03 115.00,294.80 C125.22,295.57 141.50,297.33 149.00,298.20 C156.50,299.07 155.75,298.60 160.00,300.00 C164.25,301.40 169.65,303.83 174.50,306.60 C179.35,309.37 185.22,313.43 189.10,316.60 C192.98,319.77 195.32,323.27 197.80,325.60 C200.28,327.93 202.30,329.60 204.00,330.60 C205.70,331.60 207.33,331.43 208.00,331.60" fill="none" stroke="#2F8A2F" stroke-width="2.6" stroke-linejoin="round" stroke-linecap="round" opacity="1.0"/>
<path d="M58.30,280.00 C59.58,280.70 62.92,282.23 66.00,284.20 C69.08,286.17 73.18,290.23 76.80,291.80 C80.42,293.37 81.33,293.10 87.70,293.60 C94.07,294.10 104.78,294.03 115.00,294.80 C125.22,295.57 141.50,297.33 149.00,298.20 C156.50,299.07 155.75,298.60 160.00,300.00 C164.25,301.40 169.65,303.83 174.50,306.60 C179.35,309.37 185.22,313.43 189.10,316.60 C192.98,319.77 195.32,323.27 197.80,325.60 C200.28,327.93 202.30,329.60 204.00,330.60 C205.70,331.60 207.33,331.43 208.00,331.60" fill="none" stroke="#B8E0B8" stroke-width="0.9" stroke-linecap="round" stroke-dasharray="0.01 2.6"/>
<g fill="none" stroke="#2F8A2F" stroke-width="1.0"><circle cx="208.0" cy="331.6" r="1.3"/><circle cx="209.6" cy="329.3" r="1.3"/><circle cx="211.0" cy="327.0" r="1.3"/><circle cx="212.1" cy="324.4" r="1.3"/><circle cx="213.0" cy="322.0" r="1.3"/><circle cx="213.8" cy="319.7" r="1.3"/><circle cx="214.8" cy="316.7" r="1.3"/><circle cx="215.5" cy="314.4" r="1.3"/><circle cx="216.3" cy="312.0" r="1.3"/><circle cx="217.1" cy="309.7" r="1.3"/><circle cx="218.2" cy="306.6" r="1.3"/><circle cx="219.3" cy="304.0" r="1.3"/><circle cx="220.4" cy="301.6" r="1.3"/><circle cx="221.8" cy="299.0" r="1.3"/><circle cx="223.3" cy="297.2" r="1.3"/><circle cx="225.3" cy="296.0" r="1.3"/></g>
<path d="M226.80,295.40 C229.00,295.33 234.87,295.07 240.00,295.00 C245.13,294.93 254.67,295.00 257.60,295.00" fill="none" stroke="#2F8A2F" stroke-width="2.6" stroke-linejoin="round" stroke-linecap="round" opacity="1.0"/>
<path d="M226.80,295.40 C229.00,295.33 234.87,295.07 240.00,295.00 C245.13,294.93 254.67,295.00 257.60,295.00" fill="none" stroke="#B8E0B8" stroke-width="0.9" stroke-linecap="round" stroke-dasharray="0.01 2.6"/>
<path d="M257.60,294.60 C257.60,292.17 257.93,283.17 257.60,280.00 C257.27,276.83 256.62,276.83 255.60,275.60 C254.58,274.37 253.10,273.43 251.50,272.60 C249.90,271.77 248.15,271.22 246.00,270.60 C243.85,269.98 242.77,269.43 238.60,268.90 C234.43,268.37 227.43,267.55 221.00,267.40 C214.57,267.25 206.00,267.67 200.00,268.00 C194.00,268.33 189.17,269.02 185.00,269.40 C180.83,269.78 179.17,270.07 175.00,270.30 C170.83,270.53 164.17,270.72 160.00,270.80 C155.83,270.88 152.58,270.93 150.00,270.80 C147.42,270.67 146.00,270.42 144.50,270.00 C143.00,269.58 142.08,269.05 141.00,268.30 C139.92,267.55 138.92,266.62 138.00,265.50 C137.08,264.38 136.43,263.15 135.50,261.60 C134.57,260.05 133.35,257.93 132.40,256.20 C131.45,254.47 130.63,252.40 129.80,251.20 C128.97,250.00 128.20,249.32 127.40,249.00 C126.60,248.68 126.08,249.08 125.00,249.30 C123.92,249.52 122.57,250.05 120.90,250.30 C119.23,250.55 116.42,250.42 115.00,250.80 C113.58,251.18 113.23,251.67 112.40,252.60 C111.57,253.53 110.77,254.80 110.00,256.40 C109.23,258.00 108.58,260.27 107.80,262.20 C107.02,264.13 106.17,266.28 105.30,268.00 C104.43,269.72 103.82,271.28 102.60,272.50 C101.38,273.72 100.48,274.57 98.00,275.30 C95.52,276.03 91.23,276.55 87.70,276.90 C84.17,277.25 80.43,277.15 76.80,277.40 C73.17,277.65 68.98,277.97 65.90,278.40 C62.82,278.83 59.57,279.73 58.30,280.00" fill="none" stroke="#8E0B0B" stroke-width="3.0" stroke-linejoin="round" stroke-linecap="round" opacity="1.0"/>
<path d="M58.30,280.00 C59.57,280.57 63.72,282.18 65.90,283.40 C68.08,284.62 69.58,286.20 71.40,287.30 C73.22,288.40 74.08,289.28 76.80,290.00 C79.52,290.72 81.33,291.22 87.70,291.60 C94.07,291.98 108.62,292.00 115.00,292.30 C121.38,292.60 120.25,292.82 126.00,293.40 C131.75,293.98 143.83,295.13 149.50,295.80 C155.17,296.47 157.25,296.67 160.00,297.40 C162.75,298.13 163.58,299.15 166.00,300.20 C168.42,301.25 171.38,301.90 174.50,303.70 C177.62,305.50 181.78,308.38 184.70,311.00 C187.62,313.62 189.82,316.67 192.00,319.40 C194.18,322.13 196.10,325.00 197.80,327.40 C199.50,329.80 200.90,332.22 202.20,333.80 C203.50,335.38 204.63,336.57 205.60,336.90 C206.57,337.23 207.60,335.98 208.00,335.80" fill="none" stroke="#8E0B0B" stroke-width="3.0" stroke-linejoin="round" stroke-linecap="round" opacity="1.0"/>
<path d="M58.30,280.00 C59.57,280.57 63.72,282.18 65.90,283.40 C68.08,284.62 69.58,286.20 71.40,287.30 C73.22,288.40 74.08,289.28 76.80,290.00 C79.52,290.72 81.33,291.22 87.70,291.60 C94.07,291.98 108.62,292.00 115.00,292.30 C121.38,292.60 120.25,292.82 126.00,293.40 C131.75,293.98 143.83,295.13 149.50,295.80 C155.17,296.47 157.25,296.67 160.00,297.40 C162.75,298.13 163.58,299.15 166.00,300.20 C168.42,301.25 171.38,301.90 174.50,303.70 C177.62,305.50 181.78,308.38 184.70,311.00 C187.62,313.62 189.82,316.67 192.00,319.40 C194.18,322.13 196.10,325.00 197.80,327.40 C199.50,329.80 200.90,332.22 202.20,333.80 C203.50,335.38 204.63,336.57 205.60,336.90 C206.57,337.23 207.60,335.98 208.00,335.80" fill="none" stroke="#D86060" stroke-width="1.0" stroke-linecap="round" stroke-dasharray="0.01 2.8"/>
<g fill="none" stroke="#B02020" stroke-width="1.05"><circle cx="205.6" cy="336.9" r="1.35"/><circle cx="207.8" cy="336.1" r="1.35"/><circle cx="208.8" cy="333.9" r="1.35"/><circle cx="209.5" cy="331.3" r="1.35"/><circle cx="210.1" cy="328.6" r="1.35"/><circle cx="210.5" cy="326.2" r="1.35"/><circle cx="210.9" cy="323.5" r="1.35"/><circle cx="211.4" cy="320.7" r="1.35"/><circle cx="212.0" cy="317.6" r="1.35"/><circle cx="212.5" cy="315.4" r="1.35"/><circle cx="213.0" cy="313.0" r="1.35"/><circle cx="213.5" cy="310.7" r="1.35"/><circle cx="214.2" cy="307.5" r="1.35"/><circle cx="215.0" cy="304.9" r="1.35"/><circle cx="215.8" cy="302.7" r="1.35"/><circle cx="216.9" cy="300.2" r="1.35"/><circle cx="218.1" cy="298.1" r="1.35"/><circle cx="219.7" cy="296.4" r="1.35"/><circle cx="221.6" cy="295.0" r="1.35"/></g>
<path d="M222.10,294.60 C223.42,294.50 226.18,294.07 230.00,294.00 C233.82,293.93 240.40,294.10 245.00,294.20 C249.60,294.30 255.50,294.53 257.60,294.60" fill="none" stroke="#8E0B0B" stroke-width="3.0" stroke-linejoin="round" stroke-linecap="round" opacity="1.0"/>
<text x="75.0" y="319.3" font-family="'Liberation Serif', serif" font-weight="bold" fill="#1A1A1A" font-size="9.0" stroke="#1A1A1A" stroke-width="0.3" textLength="67.0" lengthAdjust="spacingAndGlyphs">SMA-graft-PEG(2:1)</text>
<text x="105.4" y="331.8" font-family="'Liberation Serif', serif" font-weight="bold" fill="#1A1A1A" font-size="9.0" stroke="#1A1A1A" stroke-width="0.3" textLength="66.69999999999999" lengthAdjust="spacingAndGlyphs">SMA-graft-PEG(4:1)</text>
<text x="213.0" y="335.6" font-family="'Liberation Serif', serif" font-weight="bold" fill="#1A1A1A" font-size="9.0" stroke="#1A1A1A" stroke-width="0.3" textLength="66.0" lengthAdjust="spacingAndGlyphs">SMA-graft-PEG(1:1)</text>
<text x="241.9" y="316.0" font-family="'Liberation Serif', serif" font-weight="bold" fill="#1A1A1A" font-size="9.6" stroke="#1A1A1A" stroke-width="0.3" textLength="15.900000000000006" lengthAdjust="spacingAndGlyphs">PEG</text>
<path d="M170.6,306.2 L156.6,315.6 L143.9,316.0 M149.4,312.2 L143.9,316.0 L149.4,319.6" stroke="#111" stroke-width="1.3" fill="none" stroke-linecap="round" stroke-linejoin="round"/>
<path d="M205.2,337.0 L181.0,329.4 L173.2,329.4 M177.4,326.2 L173.2,329.4 L177.4,332.6" stroke="#111" stroke-width="1.3" fill="none" stroke-linecap="round" stroke-linejoin="round"/>
<path d="M221.2,342.0 L232.6,338.6 M228.0,337.0 L232.6,338.6 L230.2,342.8" stroke="#111" stroke-width="1.3" fill="none" stroke-linecap="round" stroke-linejoin="round"/>
<path d="M228.4,302.8 L238.6,312.0 M233.6,311.4 L238.6,312.0 L238.0,307.0" stroke="#111" stroke-width="1.3" fill="none" stroke-linecap="round" stroke-linejoin="round"/>
<text x="285.6" y="225.8" font-family="'Liberation Serif', serif" font-weight="bold" font-size="10" fill="#111" textLength="11.8" lengthAdjust="spacingAndGlyphs">(c)</text>
<g fill="none">
<line x1="332.0" y1="218.6" x2="332.0" y2="358.8" stroke="#BCBCBC" stroke-width="1"/>
<line x1="338.0" y1="218.6" x2="338.0" y2="358.8" stroke="#BCBCBC" stroke-width="1"/>
<line x1="344.0" y1="218.6" x2="344.0" y2="358.8" stroke="#BCBCBC" stroke-width="1"/>
<line x1="350.0" y1="218.6" x2="350.0" y2="358.8" stroke="#BCBCBC" stroke-width="1"/>
<line x1="362.0" y1="218.6" x2="362.0" y2="358.8" stroke="#BCBCBC" stroke-width="1"/>
<line x1="368.0" y1="218.6" x2="368.0" y2="358.8" stroke="#BCBCBC" stroke-width="1"/>
<line x1="374.0" y1="218.6" x2="374.0" y2="358.8" stroke="#BCBCBC" stroke-width="1"/>
<line x1="380.0" y1="218.6" x2="380.0" y2="358.8" stroke="#BCBCBC" stroke-width="1"/>
<line x1="392.0" y1="218.6" x2="392.0" y2="358.8" stroke="#BCBCBC" stroke-width="1"/>
<line x1="398.0" y1="218.6" x2="398.0" y2="358.8" stroke="#BCBCBC" stroke-width="1"/>
<line x1="404.0" y1="218.6" x2="404.0" y2="358.8" stroke="#BCBCBC" stroke-width="1"/>
<line x1="410.0" y1="218.6" x2="410.0" y2="358.8" stroke="#BCBCBC" stroke-width="1"/>
<line x1="422.0" y1="218.6" x2="422.0" y2="358.8" stroke="#BCBCBC" stroke-width="1"/>
<line x1="428.0" y1="218.6" x2="428.0" y2="358.8" stroke="#BCBCBC" stroke-width="1"/>
<line x1="434.0" y1="218.6" x2="434.0" y2="358.8" stroke="#BCBCBC" stroke-width="1"/>
<line x1="440.0" y1="218.6" x2="440.0" y2="358.8" stroke="#BCBCBC" stroke-width="1"/>
<line x1="452.0" y1="218.6" x2="452.0" y2="358.8" stroke="#BCBCBC" stroke-width="1"/>
<line x1="458.0" y1="218.6" x2="458.0" y2="358.8" stroke="#BCBCBC" stroke-width="1"/>
<line x1="464.0" y1="218.6" x2="464.0" y2="358.8" stroke="#BCBCBC" stroke-width="1"/>
<line x1="470.0" y1="218.6" x2="470.0" y2="358.8" stroke="#BCBCBC" stroke-width="1"/>
<line x1="482.0" y1="218.6" x2="482.0" y2="358.8" stroke="#BCBCBC" stroke-width="1"/>
<line x1="488.0" y1="218.6" x2="488.0" y2="358.8" stroke="#BCBCBC" stroke-width="1"/>
<line x1="494.0" y1="218.6" x2="494.0" y2="358.8" stroke="#BCBCBC" stroke-width="1"/>
<line x1="500.0" y1="218.6" x2="500.0" y2="358.8" stroke="#BCBCBC" stroke-width="1"/>
<line x1="512.0" y1="218.6" x2="512.0" y2="358.8" stroke="#BCBCBC" stroke-width="1"/>
<line x1="518.0" y1="218.6" x2="518.0" y2="358.8" stroke="#BCBCBC" stroke-width="1"/>
<line x1="524.0" y1="218.6" x2="524.0" y2="358.8" stroke="#BCBCBC" stroke-width="1"/>
<line x1="530.0" y1="218.6" x2="530.0" y2="358.8" stroke="#BCBCBC" stroke-width="1"/>
<line x1="326.0" y1="354.1" x2="536.0" y2="354.1" stroke="#B2B2B2" stroke-width="1"/>
<line x1="326.0" y1="349.5" x2="536.0" y2="349.5" stroke="#B2B2B2" stroke-width="1"/>
<line x1="326.0" y1="344.8" x2="536.0" y2="344.8" stroke="#B2B2B2" stroke-width="1"/>
<line x1="326.0" y1="340.1" x2="536.0" y2="340.1" stroke="#B2B2B2" stroke-width="1"/>
<line x1="326.0" y1="330.8" x2="536.0" y2="330.8" stroke="#B2B2B2" stroke-width="1"/>
<line x1="326.0" y1="326.1" x2="536.0" y2="326.1" stroke="#B2B2B2" stroke-width="1"/>
<line x1="326.0" y1="321.4" x2="536.0" y2="321.4" stroke="#B2B2B2" stroke-width="1"/>
<line x1="326.0" y1="316.7" x2="536.0" y2="316.7" stroke="#B2B2B2" stroke-width="1"/>
<line x1="326.0" y1="307.4" x2="536.0" y2="307.4" stroke="#B2B2B2" stroke-width="1"/>
<line x1="326.0" y1="302.7" x2="536.0" y2="302.7" stroke="#B2B2B2" stroke-width="1"/>
<line x1="326.0" y1="298.0" x2="536.0" y2="298.0" stroke="#B2B2B2" stroke-width="1"/>
<line x1="326.0" y1="293.4" x2="536.0" y2="293.4" stroke="#B2B2B2" stroke-width="1"/>
<line x1="326.0" y1="284.0" x2="536.0" y2="284.0" stroke="#B2B2B2" stroke-width="1"/>
<line x1="326.0" y1="279.4" x2="536.0" y2="279.4" stroke="#B2B2B2" stroke-width="1"/>
<line x1="326.0" y1="274.7" x2="536.0" y2="274.7" stroke="#B2B2B2" stroke-width="1"/>
<line x1="326.0" y1="270.0" x2="536.0" y2="270.0" stroke="#B2B2B2" stroke-width="1"/>
<line x1="326.0" y1="260.7" x2="536.0" y2="260.7" stroke="#B2B2B2" stroke-width="1"/>
<line x1="326.0" y1="256.0" x2="536.0" y2="256.0" stroke="#B2B2B2" stroke-width="1"/>
<line x1="326.0" y1="251.3" x2="536.0" y2="251.3" stroke="#B2B2B2" stroke-width="1"/>
<line x1="326.0" y1="246.6" x2="536.0" y2="246.6" stroke="#B2B2B2" stroke-width="1"/>
<line x1="326.0" y1="237.3" x2="536.0" y2="237.3" stroke="#B2B2B2" stroke-width="1"/>
<line x1="326.0" y1="232.6" x2="536.0" y2="232.6" stroke="#B2B2B2" stroke-width="1"/>
<line x1="326.0" y1="228.0" x2="536.0" y2="228.0" stroke="#B2B2B2" stroke-width="1"/>
<line x1="326.0" y1="223.3" x2="536.0" y2="223.3" stroke="#B2B2B2" stroke-width="1"/>
<line x1="356.0" y1="218.6" x2="356.0" y2="358.8" stroke="#858585" stroke-width="1.1"/>
<line x1="386.0" y1="218.6" x2="386.0" y2="358.8" stroke="#858585" stroke-width="1.1"/>
<line x1="416.0" y1="218.6" x2="416.0" y2="358.8" stroke="#858585" stroke-width="1.1"/>
<line x1="446.0" y1="218.6" x2="446.0" y2="358.8" stroke="#858585" stroke-width="1.1"/>
<line x1="476.0" y1="218.6" x2="476.0" y2="358.8" stroke="#858585" stroke-width="1.1"/>
<line x1="506.0" y1="218.6" x2="506.0" y2="358.8" stroke="#858585" stroke-width="1.1"/>
<line x1="536.0" y1="218.6" x2="536.0" y2="358.8" stroke="#858585" stroke-width="1.1"/>
<line x1="326.0" y1="335.4" x2="536.0" y2="335.4" stroke="#858585" stroke-width="1.1"/>
<line x1="326.0" y1="312.1" x2="536.0" y2="312.1" stroke="#858585" stroke-width="1.1"/>
<line x1="326.0" y1="288.7" x2="536.0" y2="288.7" stroke="#858585" stroke-width="1.1"/>
<line x1="326.0" y1="265.3" x2="536.0" y2="265.3" stroke="#858585" stroke-width="1.1"/>
<line x1="326.0" y1="242.0" x2="536.0" y2="242.0" stroke="#858585" stroke-width="1.1"/>
<line x1="326.0" y1="218.6" x2="536.0" y2="218.6" stroke="#858585" stroke-width="1.1"/>
</g>
<rect x="446.6" y="219.1" width="89.4" height="92.7" fill="#FFFFFF"/>
<line x1="446.0" y1="218.6" x2="446.0" y2="311.3" stroke="#8A8A8A" stroke-width="1"/>
<rect x="326.0" y="218.6" width="210.0" height="140.2" fill="none" stroke="#9A9A9A" stroke-width="1"/>
<line x1="326.0" y1="218.6" x2="326.0" y2="358.8" stroke="#555" stroke-width="1.1"/>
<line x1="326.0" y1="358.8" x2="536.0" y2="358.8" stroke="#555" stroke-width="1.1"/>
<line x1="323.5" y1="358.8" x2="326.0" y2="358.8" stroke="#555" stroke-width="1"/>
<text x="321.6" y="361.4" font-family="'Liberation Sans', sans-serif" font-size="7.4" fill="#333" stroke="#333" stroke-width="0.15" text-anchor="end">0</text>
<line x1="323.5" y1="335.4" x2="326.0" y2="335.4" stroke="#555" stroke-width="1"/>
<text x="321.6" y="338.0" font-family="'Liberation Sans', sans-serif" font-size="7.4" fill="#333" stroke="#333" stroke-width="0.15" text-anchor="end">20</text>
<line x1="323.5" y1="312.1" x2="326.0" y2="312.1" stroke="#555" stroke-width="1"/>
<text x="321.6" y="314.7" font-family="'Liberation Sans', sans-serif" font-size="7.4" fill="#333" stroke="#333" stroke-width="0.15" text-anchor="end">40</text>
<line x1="323.5" y1="288.7" x2="326.0" y2="288.7" stroke="#555" stroke-width="1"/>
<text x="321.6" y="291.3" font-family="'Liberation Sans', sans-serif" font-size="7.4" fill="#333" stroke="#333" stroke-width="0.15" text-anchor="end">60</text>
<line x1="323.5" y1="265.3" x2="326.0" y2="265.3" stroke="#555" stroke-width="1"/>
<text x="321.6" y="267.9" font-family="'Liberation Sans', sans-serif" font-size="7.4" fill="#333" stroke="#333" stroke-width="0.15" text-anchor="end">80</text>
<line x1="323.5" y1="242.0" x2="326.0" y2="242.0" stroke="#555" stroke-width="1"/>
<text x="321.6" y="244.6" font-family="'Liberation Sans', sans-serif" font-size="7.4" fill="#333" stroke="#333" stroke-width="0.15" text-anchor="end">100</text>
<line x1="323.5" y1="218.6" x2="326.0" y2="218.6" stroke="#555" stroke-width="1"/>
<text x="321.6" y="221.2" font-family="'Liberation Sans', sans-serif" font-size="7.4" fill="#333" stroke="#333" stroke-width="0.15" text-anchor="end">120</text>
<line x1="326.0" y1="358.8" x2="326.0" y2="361.3" stroke="#555" stroke-width="1"/>
<text x="326.0" y="370.7" font-family="'Liberation Sans', sans-serif" font-size="7.4" fill="#333" stroke="#333" stroke-width="0.15" text-anchor="middle">0</text>
<line x1="356.0" y1="358.8" x2="356.0" y2="361.3" stroke="#555" stroke-width="1"/>
<text x="356.0" y="370.7" font-family="'Liberation Sans', sans-serif" font-size="7.4" fill="#333" stroke="#333" stroke-width="0.15" text-anchor="middle">100</text>
<line x1="386.0" y1="358.8" x2="386.0" y2="361.3" stroke="#555" stroke-width="1"/>
<text x="386.0" y="370.7" font-family="'Liberation Sans', sans-serif" font-size="7.4" fill="#333" stroke="#333" stroke-width="0.15" text-anchor="middle">200</text>
<line x1="416.0" y1="358.8" x2="416.0" y2="361.3" stroke="#555" stroke-width="1"/>
<text x="416.0" y="370.7" font-family="'Liberation Sans', sans-serif" font-size="7.4" fill="#333" stroke="#333" stroke-width="0.15" text-anchor="middle">300</text>
<line x1="446.0" y1="358.8" x2="446.0" y2="361.3" stroke="#555" stroke-width="1"/>
<text x="446.0" y="370.7" font-family="'Liberation Sans', sans-serif" font-size="7.4" fill="#333" stroke="#333" stroke-width="0.15" text-anchor="middle">400</text>
<line x1="476.0" y1="358.8" x2="476.0" y2="361.3" stroke="#555" stroke-width="1"/>
<text x="476.0" y="370.7" font-family="'Liberation Sans', sans-serif" font-size="7.4" fill="#333" stroke="#333" stroke-width="0.15" text-anchor="middle">500</text>
<line x1="506.0" y1="358.8" x2="506.0" y2="361.3" stroke="#555" stroke-width="1"/>
<text x="506.0" y="370.7" font-family="'Liberation Sans', sans-serif" font-size="7.4" fill="#333" stroke="#333" stroke-width="0.15" text-anchor="middle">600</text>
<line x1="536.0" y1="358.8" x2="536.0" y2="361.3" stroke="#555" stroke-width="1"/>
<text x="536.0" y="370.7" font-family="'Liberation Sans', sans-serif" font-size="7.4" fill="#333" stroke="#333" stroke-width="0.15" text-anchor="middle">700</text>
<text x="408.6" y="382.1" font-family="'Liberation Serif', serif" font-weight="bold" font-size="8.2" fill="#222" textLength="48.3" lengthAdjust="spacingAndGlyphs">Temperature (<tspan font-size="5.8" dy="-2.2">o</tspan><tspan dy="2.2">C)</tspan></text>
<text transform="translate(304.8,302.3) rotate(-90)" font-family="'Liberation Serif', serif" font-weight="bold" font-size="7.4" fill="#222" textLength="27.9" lengthAdjust="spacingAndGlyphs">% Weight</text>
<path d="M337.60,241.60 C338.33,241.97 340.27,242.93 342.00,243.80 C343.73,244.67 345.67,245.90 348.00,246.80 C350.33,247.70 353.00,248.57 356.00,249.20 C359.00,249.83 362.33,250.20 366.00,250.60 C369.67,251.00 374.00,251.32 378.00,251.60 C382.00,251.88 385.50,252.10 390.00,252.30 C394.50,252.50 400.33,252.58 405.00,252.80 C409.67,253.02 414.50,253.23 418.00,253.60 C421.50,253.97 423.67,254.18 426.00,255.00 C428.33,255.82 430.25,257.00 432.00,258.50 C433.75,260.00 435.23,261.75 436.50,264.00 C437.77,266.25 438.72,268.50 439.60,272.00 C440.48,275.50 441.17,279.50 441.80,285.00 C442.43,290.50 442.87,297.50 443.40,305.00 C443.93,312.50 444.43,322.83 445.00,330.00 C445.57,337.17 446.13,343.83 446.80,348.00 C447.47,352.17 447.97,353.60 449.00,355.00 C450.03,356.40 449.50,356.10 453.00,356.40 C456.50,356.70 461.23,356.72 470.00,356.80 C478.77,356.88 499.67,356.88 505.60,356.90" fill="none" stroke="#3A78E0" stroke-width="1.9" stroke-linejoin="round" stroke-linecap="round"/>
<path d="M337.60,241.40 C339.67,241.47 344.60,241.67 350.00,241.80 C355.40,241.93 363.33,242.00 370.00,242.20 C376.67,242.40 384.67,242.60 390.00,243.00 C395.33,243.40 398.33,243.90 402.00,244.60 C405.67,245.30 409.17,246.13 412.00,247.20 C414.83,248.27 416.83,249.37 419.00,251.00 C421.17,252.63 423.17,254.67 425.00,257.00 C426.83,259.33 428.50,262.00 430.00,265.00 C431.50,268.00 432.80,271.33 434.00,275.00 C435.20,278.67 436.20,282.33 437.20,287.00 C438.20,291.67 439.10,297.50 440.00,303.00 C440.90,308.50 441.80,314.50 442.60,320.00 C443.40,325.50 444.13,331.75 444.80,336.00 C445.47,340.25 445.90,343.23 446.60,345.50 C447.30,347.77 447.77,348.62 449.00,349.60 C450.23,350.58 451.33,350.90 454.00,351.40 C456.67,351.90 460.67,352.32 465.00,352.60 C469.33,352.88 473.23,352.97 480.00,353.10 C486.77,353.23 501.33,353.35 505.60,353.40" fill="none" stroke="#7030A0" stroke-width="1.9" stroke-linejoin="round" stroke-linecap="round"/>
<path d="M337.60,241.40 C339.67,241.42 345.43,241.47 350.00,241.50 C354.57,241.53 358.33,241.55 365.00,241.60 C371.67,241.65 382.50,241.70 390.00,241.80 C397.50,241.90 404.67,242.00 410.00,242.20 C415.33,242.40 418.67,242.53 422.00,243.00 C425.33,243.47 427.75,244.00 430.00,245.00 C432.25,246.00 434.00,247.25 435.50,249.00 C437.00,250.75 438.05,252.83 439.00,255.50 C439.95,258.17 440.60,260.92 441.20,265.00 C441.80,269.08 442.20,274.17 442.60,280.00 C443.00,285.83 443.23,292.50 443.60,300.00 C443.97,307.50 444.37,317.50 444.80,325.00 C445.23,332.50 445.67,340.07 446.20,345.00 C446.73,349.93 447.12,352.67 448.00,354.60 C448.88,356.53 447.83,356.20 451.50,356.60 C455.17,357.00 460.98,356.93 470.00,357.00 C479.02,357.07 499.67,357.00 505.60,357.00" fill="none" stroke="#109A10" stroke-width="1.9" stroke-linejoin="round" stroke-linecap="round"/>
<path d="M337.60,241.40 C338.83,241.53 342.60,241.87 345.00,242.20 C347.40,242.53 349.17,243.03 352.00,243.40 C354.83,243.77 358.17,244.15 362.00,244.40 C365.83,244.65 370.33,244.80 375.00,244.90 C379.67,245.00 385.00,244.95 390.00,245.00 C395.00,245.05 400.33,245.07 405.00,245.20 C409.67,245.33 414.33,245.47 418.00,245.80 C421.67,246.13 424.50,246.50 427.00,247.20 C429.50,247.90 431.23,248.62 433.00,250.00 C434.77,251.38 436.35,253.17 437.60,255.50 C438.85,257.83 439.72,260.58 440.50,264.00 C441.28,267.42 441.75,270.83 442.30,276.00 C442.85,281.17 443.32,287.67 443.80,295.00 C444.28,302.33 444.73,312.17 445.20,320.00 C445.67,327.83 446.03,336.40 446.60,342.00 C447.17,347.60 447.70,351.20 448.60,353.60 C449.50,356.00 448.43,355.83 452.00,356.40 C455.57,356.97 461.07,356.88 470.00,357.00 C478.93,357.12 499.67,357.08 505.60,357.10" fill="none" stroke="#101010" stroke-width="1.9" stroke-linejoin="round" stroke-linecap="round"/>
<path d="M337.60,241.40 C338.33,241.77 340.27,242.77 342.00,243.60 C343.73,244.43 345.67,245.57 348.00,246.40 C350.33,247.23 353.00,248.03 356.00,248.60 C359.00,249.17 362.33,249.50 366.00,249.80 C369.67,250.10 374.00,250.23 378.00,250.40 C382.00,250.57 385.50,250.67 390.00,250.80 C394.50,250.93 400.33,251.00 405.00,251.20 C409.67,251.40 414.33,251.60 418.00,252.00 C421.67,252.40 424.50,252.77 427.00,253.60 C429.50,254.43 431.25,255.43 433.00,257.00 C434.75,258.57 436.23,260.67 437.50,263.00 C438.77,265.33 439.75,267.67 440.60,271.00 C441.45,274.33 442.00,278.17 442.60,283.00 C443.20,287.83 443.70,293.00 444.20,300.00 C444.70,307.00 445.10,317.50 445.60,325.00 C446.10,332.50 446.50,340.07 447.20,345.00 C447.90,349.93 448.50,352.77 449.80,354.60 C451.10,356.43 450.80,355.73 455.00,356.00 C459.20,356.27 466.57,356.17 475.00,356.20 C483.43,356.23 500.50,356.20 505.60,356.20" fill="none" stroke="#FF1010" stroke-width="2.2" stroke-linejoin="round" stroke-linecap="round"/>
<line x1="451.2" y1="227.7" x2="458.2" y2="227.7" stroke="#7030A0" stroke-width="1.8"/>
<text x="461.6" y="230.4" font-family="'Liberation Serif', serif" font-weight="bold" font-size="8" fill="#1A1A1A" textLength="16.8" lengthAdjust="spacingAndGlyphs">SMA</text>
<line x1="451.2" y1="246.3" x2="458.2" y2="246.3" stroke="#109A10" stroke-width="1.8"/>
<text x="460.5" y="249.2" font-family="'Liberation Serif', serif" font-weight="bold" font-size="8" fill="#1A1A1A" textLength="16.4" lengthAdjust="spacingAndGlyphs">PEG</text>
<line x1="451.2" y1="265.4" x2="458.2" y2="265.4" stroke="#3A78E0" stroke-width="1.8"/>
<text x="460.9" y="268.0" font-family="'Liberation Serif', serif" font-weight="bold" font-size="8" fill="#1A1A1A" stroke="#1A1A1A" stroke-width="0.2" textLength="70" lengthAdjust="spacingAndGlyphs">SMA-graft-PEG(1:1)</text>
<line x1="451.2" y1="283.4" x2="458.2" y2="283.4" stroke="#101010" stroke-width="1.8"/>
<text x="460.9" y="286.4" font-family="'Liberation Serif', serif" font-weight="bold" font-size="8" fill="#1A1A1A" stroke="#1A1A1A" stroke-width="0.2" textLength="70" lengthAdjust="spacingAndGlyphs">SMA-graft-PEG(2:1)</text>
<line x1="451.2" y1="301.3" x2="458.2" y2="301.3" stroke="#FF1010" stroke-width="1.8"/>
<text x="460.9" y="304.0" font-family="'Liberation Serif', serif" font-weight="bold" font-size="8" fill="#1A1A1A" stroke="#1A1A1A" stroke-width="0.2" textLength="70" lengthAdjust="spacingAndGlyphs">SMA-graft-PEG(4:1)</text>
</svg>
</body></html>
